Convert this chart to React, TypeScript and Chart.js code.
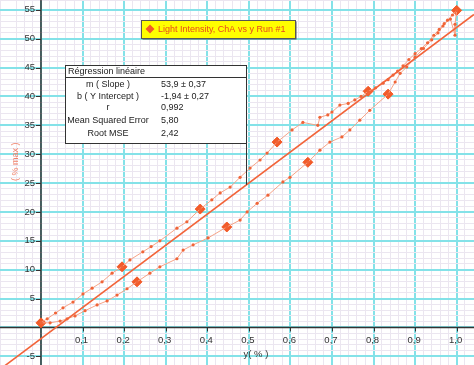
import React, { useEffect, useRef } from "react";
import { Chart, registerables } from "chart.js";

Chart.register(...registerables);

// Measured run: rising branch (0 -> 1) then returning branch (1 -> 0)
const runX = [
  0.0, 0.022, 0.046, 0.063, 0.082, 0.106, 0.135, 0.159, 0.183, 0.207,
  0.231, 0.262, 0.286, 0.327, 0.342, 0.366, 0.402, 0.447, 0.479, 0.496,
  0.52, 0.546, 0.582, 0.599, 0.642, 0.671, 0.695, 0.724, 0.743, 0.767,
  0.791, 0.835, 0.852, 0.864, 0.88, 0.9, 0.92, 0.94, 0.955, 0.967,
  0.978, 0.99, 1.0,
  0.996, 0.996, 0.985, 0.97, 0.958, 0.945, 0.93, 0.915, 0.9, 0.885,
  0.871, 0.858, 0.847, 0.835, 0.823, 0.805, 0.787, 0.77, 0.755, 0.739,
  0.719, 0.7, 0.69, 0.671, 0.666, 0.63, 0.604, 0.568, 0.544, 0.527,
  0.503, 0.479, 0.455, 0.431, 0.411, 0.383, 0.351, 0.327, 0.286, 0.265,
  0.245, 0.214, 0.195, 0.171, 0.147, 0.123, 0.101, 0.077, 0.053, 0.035,
  0.015, 0.0,
];
const runY = [
  0.8, 0.8, 1.1, 1.5, 2.0, 2.9, 3.9, 4.6, 5.6, 6.7,
  7.9, 9.4, 10.5, 11.9, 13.4, 14.3, 15.5, 17.4, 18.6, 20.0,
  21.5, 22.9, 25.2, 26.0, 28.6, 30.7, 32.1, 33.0, 34.2, 35.9,
  37.6, 40.4, 42.5, 44.0, 45.1, 46.8, 48.3, 49.8, 51.0, 52.2,
  53.2, 54.1, 54.9,
  52.5, 50.6, 53.4, 52.6, 51.6, 50.6, 49.3, 48.3, 47.4, 46.4,
  45.3, 44.4, 43.7, 42.9, 42.3, 41.5, 40.9, 40.0, 39.4, 38.8,
  38.5, 37.3, 36.8, 36.4, 35.0, 35.5, 34.2, 32.1, 30.2, 29.0,
  27.6, 26.0, 24.3, 23.3, 22.1, 20.5, 18.3, 17.2, 15.0, 14.0,
  13.1, 11.7, 10.5, 9.4, 7.9, 6.8, 5.8, 4.4, 3.4, 2.5,
  1.5, 0.9,
];

// Highlighted samples (large markers)
const markerX = [0.0, 0.231, 0.447, 0.642, 0.835, 1.0, 0.787, 0.568, 0.383, 0.195];
const markerY = [0.8, 7.9, 17.4, 28.6, 40.4, 54.9, 40.9, 32.1, 20.5, 10.5];

// Linear regression
const slope = 53.9;
const intercept = -1.94;

const xTickValues = [0.1, 0.2, 0.3, 0.4, 0.5, 0.6, 0.7, 0.8, 0.9, 1.0];
const xTickLabels = ["0,1", "0,2", "0,3", "0,4", "0,5", "0,6", "0,7", "0,8", "0,9", "1,0"];
const yTickValues = [-5, 5, 10, 15, 20, 25, 30, 35, 40, 45, 50, 55];
const yTickLabels = ["-5", "5", "10", "15", "20", "25", "30", "35", "40", "45", "50", "55"];

const statLabels = ["m ( Slope )", "b ( Y Intercept )", "r", "Mean Squared Error", "Root MSE"];
const statValues = ["53,9 ± 0,37", "-1,94 ± 0,27", "0,992", "5,80", "2,42"];

const legendLabel = "Light Intensity, ChA vs y Run #1";
const tableTitle = "Régression linéaire";
const xTitle = "y( % )";
const yTitle = "( % max )";

const X_MIN = -0.0986;
const X_MAX = 1.0417;
const Y_MIN = -6.5;
const Y_MAX = 56.7;

const ORANGE = "#f25a28";
const FONT = '"Liberation Sans", Arial, sans-serif';

const isMult = (v: number, step: number) => {
  const r = v / step;
  return Math.abs(r - Math.round(r)) < 1e-6;
};

const overlay = {
  id: "overlay",
  beforeDatasetsDraw(chart: any) {
    const { ctx, chartArea, scales } = chart;
    const x = scales.x;
    const y = scales.y;
    const x0 = x.getPixelForValue(0);
    const y0 = y.getPixelForValue(0);
    ctx.save();
    ctx.strokeStyle = "#333";
    ctx.lineWidth = 1.5;
    ctx.beginPath();
    ctx.moveTo(chartArea.left, y0);
    ctx.lineTo(chartArea.right, y0);
    ctx.moveTo(x0, chartArea.top);
    ctx.lineTo(x0, chartArea.bottom);
    ctx.stroke();
    ctx.lineWidth = 1;
    ctx.beginPath();
    yTickValues.forEach((v) => {
      const py = Math.round(y.getPixelForValue(v)) + 0.5;
      ctx.moveTo(x0 - 5, py);
      ctx.lineTo(x0, py);
    });
    xTickValues.forEach((v) => {
      const px = Math.round(x.getPixelForValue(v)) + 0.5;
      ctx.moveTo(px, y0);
      ctx.lineTo(px, y0 + 4);
    });
    ctx.stroke();

    ctx.font = `9.5px ${FONT}`;
    ctx.fillStyle = "#333";
    ctx.textAlign = "right";
    ctx.textBaseline = "middle";
    yTickValues.forEach((v, i) => ctx.fillText(yTickLabels[i], x0 - 6, y.getPixelForValue(v)));
    ctx.textAlign = "center";
    xTickValues.forEach((v, i) => ctx.fillText(xTickLabels[i], x.getPixelForValue(v) - 1, y0 + 13));
    ctx.fillText(xTitle, x.getPixelForValue(0.517), y0 + 27);

    ctx.save();
    ctx.translate(x0 - 25, y.getPixelForValue(28.7));
    ctx.rotate(-Math.PI / 2);
    ctx.fillStyle = "#f08068";
    ctx.font = `9px ${FONT}`;
    ctx.fillText(yTitle, 0, 0);
    ctx.restore();
    ctx.restore();
  },
  afterDraw(chart: any) {
    const { ctx, scales } = chart;
    const x = scales.x;
    const y = scales.y;
    ctx.save();
    // legend box
    const lx = 141.5, ly = 20.5, lw = 154, lh = 18;
    ctx.fillStyle = "#555";
    ctx.fillRect(lx + 1, ly + 1, lw, lh);
    ctx.fillStyle = "#ffff00";
    ctx.fillRect(lx, ly, lw, lh);
    ctx.strokeStyle = "#555";
    ctx.lineWidth = 1;
    ctx.strokeRect(lx, ly, lw, lh);
    const dx = 150, dy = 29;
    ctx.fillStyle = ORANGE;
    ctx.beginPath();
    ctx.moveTo(dx, dy - 4.5);
    ctx.lineTo(dx + 4.5, dy);
    ctx.lineTo(dx, dy + 4.5);
    ctx.lineTo(dx - 4.5, dy);
    ctx.closePath();
    ctx.fill();
    ctx.font = `9px ${FONT}`;
    ctx.fillStyle = "#e84a1c";
    ctx.textAlign = "left";
    ctx.textBaseline = "middle";
    ctx.fillText(legendLabel, 158, 29.5);

    // regression table
    const tx = 65.5, ty = 65.5, tw = 181, th = 78;
    ctx.fillStyle = "#fff";
    ctx.fillRect(tx, ty, tw, th);
    ctx.strokeStyle = "#333";
    ctx.strokeRect(tx, ty, tw, th);
    ctx.beginPath();
    ctx.moveTo(tx, 77.5);
    ctx.lineTo(tx + tw, 77.5);
    const pxr = tx + tw;
    const regY = y.getPixelForValue(slope * x.getValueForPixel(pxr) + intercept);
    ctx.moveTo(pxr, ty + th);
    ctx.lineTo(pxr, regY);
    ctx.stroke();
    ctx.fillStyle = "#222";
    ctx.font = `9px ${FONT}`;
    ctx.fillText(tableTitle, 68, 71.5);
    const rows = [84.5, 96.5, 108, 121, 134];
    statLabels.forEach((s, i) => {
      ctx.textAlign = "center";
      ctx.fillText(s, 108, rows[i]);
      ctx.textAlign = "left";
      ctx.fillText(statValues[i], 161, rows[i]);
    });
    ctx.restore();
  },
};

export default function App() {
  const ref = useRef<HTMLCanvasElement | null>(null);
  useEffect(() => {
    document.body.style.margin = "0";
    const canvas = ref.current;
    if (!canvas) return;
    const runData = runX.map((v, i) => ({ x: v, y: runY[i] }));
    const markerData = markerX.map((v, i) => ({ x: v, y: markerY[i] }));
    const regData = [X_MIN, X_MAX].map((v) => ({ x: v, y: slope * v + intercept }));
    const chart = new Chart(canvas, {
      type: "scatter",
      data: {
        datasets: [
          {
            label: "regression",
            data: regData,
            showLine: true,
            borderColor: "#f2643a",
            borderWidth: 1.6,
            pointRadius: 0,
          },
          {
            label: legendLabel,
            data: runData,
            showLine: true,
            borderColor: "#f6a488",
            borderWidth: 1,
            pointRadius: 1.6,
            pointBackgroundColor: "#f06438",
            pointBorderWidth: 0,
          },
          {
            label: "markers",
            data: markerData,
            showLine: false,
            pointStyle: "rectRot",
            pointRadius: 5,
            pointBackgroundColor: ORANGE,
            pointBorderColor: ORANGE,
            pointBorderWidth: 1,
          },
        ],
      },
      options: {
        responsive: false,
        animation: false,
        layout: { padding: 0, autoPadding: false },
        plugins: { legend: { display: false }, tooltip: { enabled: false } },
        scales: {
          x: {
            type: "linear",
            min: X_MIN,
            max: X_MAX,
            ticks: { display: false, stepSize: 0.02 },
            border: { display: false },
            grid: {
              drawTicks: false,
              color: (c: any) => (isMult(c.tick.value, 0.1) ? "#84e2e8" : "#ebe6f0"),
              lineWidth: (c: any) => (isMult(c.tick.value, 0.1) ? 2 : 1),
            },
          },
          y: {
            type: "linear",
            min: Y_MIN,
            max: Y_MAX,
            ticks: { display: false, stepSize: 1 },
            border: { display: false },
            grid: {
              drawTicks: false,
              color: (c: any) => (isMult(c.tick.value, 5) ? "#84e2e8" : "#ebe6f0"),
              lineWidth: (c: any) => (isMult(c.tick.value, 5) ? 2 : 1),
            },
          },
        },
      },
      plugins: [overlay],
    });
    return () => chart.destroy();
  }, []);
  return (
    <div style={{ width: 474, height: 365 }}>
      <canvas ref={ref} width={474} height={365} style={{ display: "block" }} />
    </div>
  );
}
